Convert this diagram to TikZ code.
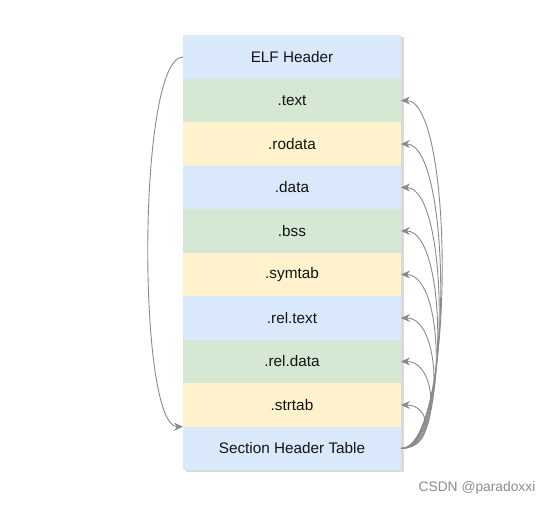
\documentclass[tikz,border=0pt]{standalone}
\usepackage{fontspec}
\setmainfont{Liberation Sans}
\usetikzlibrary{arrows.meta}
\definecolor{cblue}{HTML}{DAE8FC}
\definecolor{cgreen}{HTML}{D5E8D4}
\definecolor{cyellow}{HTML}{FFF2CC}
\definecolor{cedge}{HTML}{8A8A8A}
\begin{document}
\begin{tikzpicture}[x=1pt,y=-1pt,
  sec/.style={minimum width=218pt,minimum height=43.5pt,inner sep=0pt,outer sep=0pt,
    font=\fontsize{15.3}{17}\selectfont,text=black!92},
  link/.style={draw=cedge,line width=0.9pt,-{Stealth[length=9pt,width=8pt,inset=3pt]}}]
\useasboundingbox (0,0) rectangle (550,505);
\fill[black!15] (185.5,37.5) rectangle (403.5,472.5);
\node[sec,fill=cblue] (h) at (292,57) {ELF Header};
\node[sec,fill=cgreen] (t) at (292,100.5) {.text};
\node[sec,fill=cyellow] (ro) at (292,144) {.rodata};
\node[sec,fill=cblue] (d) at (292,187.5) {.data};
\node[sec,fill=cgreen] (b) at (292,231) {.bss};
\node[sec,fill=cyellow] (sy) at (292,274.5) {.symtab};
\node[sec,fill=cblue] (rt) at (292,318) {.rel.text};
\node[sec,fill=cgreen] (rd) at (292,361.5) {.rel.data};
\node[sec,fill=cyellow] (st) at (292,405) {.strtab};
\node[sec,fill=cblue] (sht) at (292,448.5) {Section Header Table};
\coordinate (shtr) at (sht.east);
\draw[link] (h.west) .. controls +(-46,0) and +(-46,0) .. (sht.north west);
\draw[link] (shtr) .. controls +(54,0) and +(54,0) .. (t.east);
\draw[link] (shtr) .. controls +(52,0) and +(52,0) .. (ro.east);
\draw[link] (shtr) .. controls +(50,0) and +(50,0) .. (d.east);
\draw[link] (shtr) .. controls +(48,0) and +(48,0) .. (b.east);
\draw[link] (shtr) .. controls +(46,0) and +(46,0) .. (sy.east);
\draw[link] (shtr) .. controls +(43,0) and +(43,0) .. (rt.east);
\draw[link] (shtr) .. controls +(39,0) and +(39,0) .. (rd.east);
\draw[link] (shtr) .. controls +(32,0) and +(32,0) .. (st.east);
\node[font=\fontsize{13.8}{15}\selectfont,text=black!45] (wm) at (477,488) {CSDN @paradoxxi};
\end{tikzpicture}
\end{document}
